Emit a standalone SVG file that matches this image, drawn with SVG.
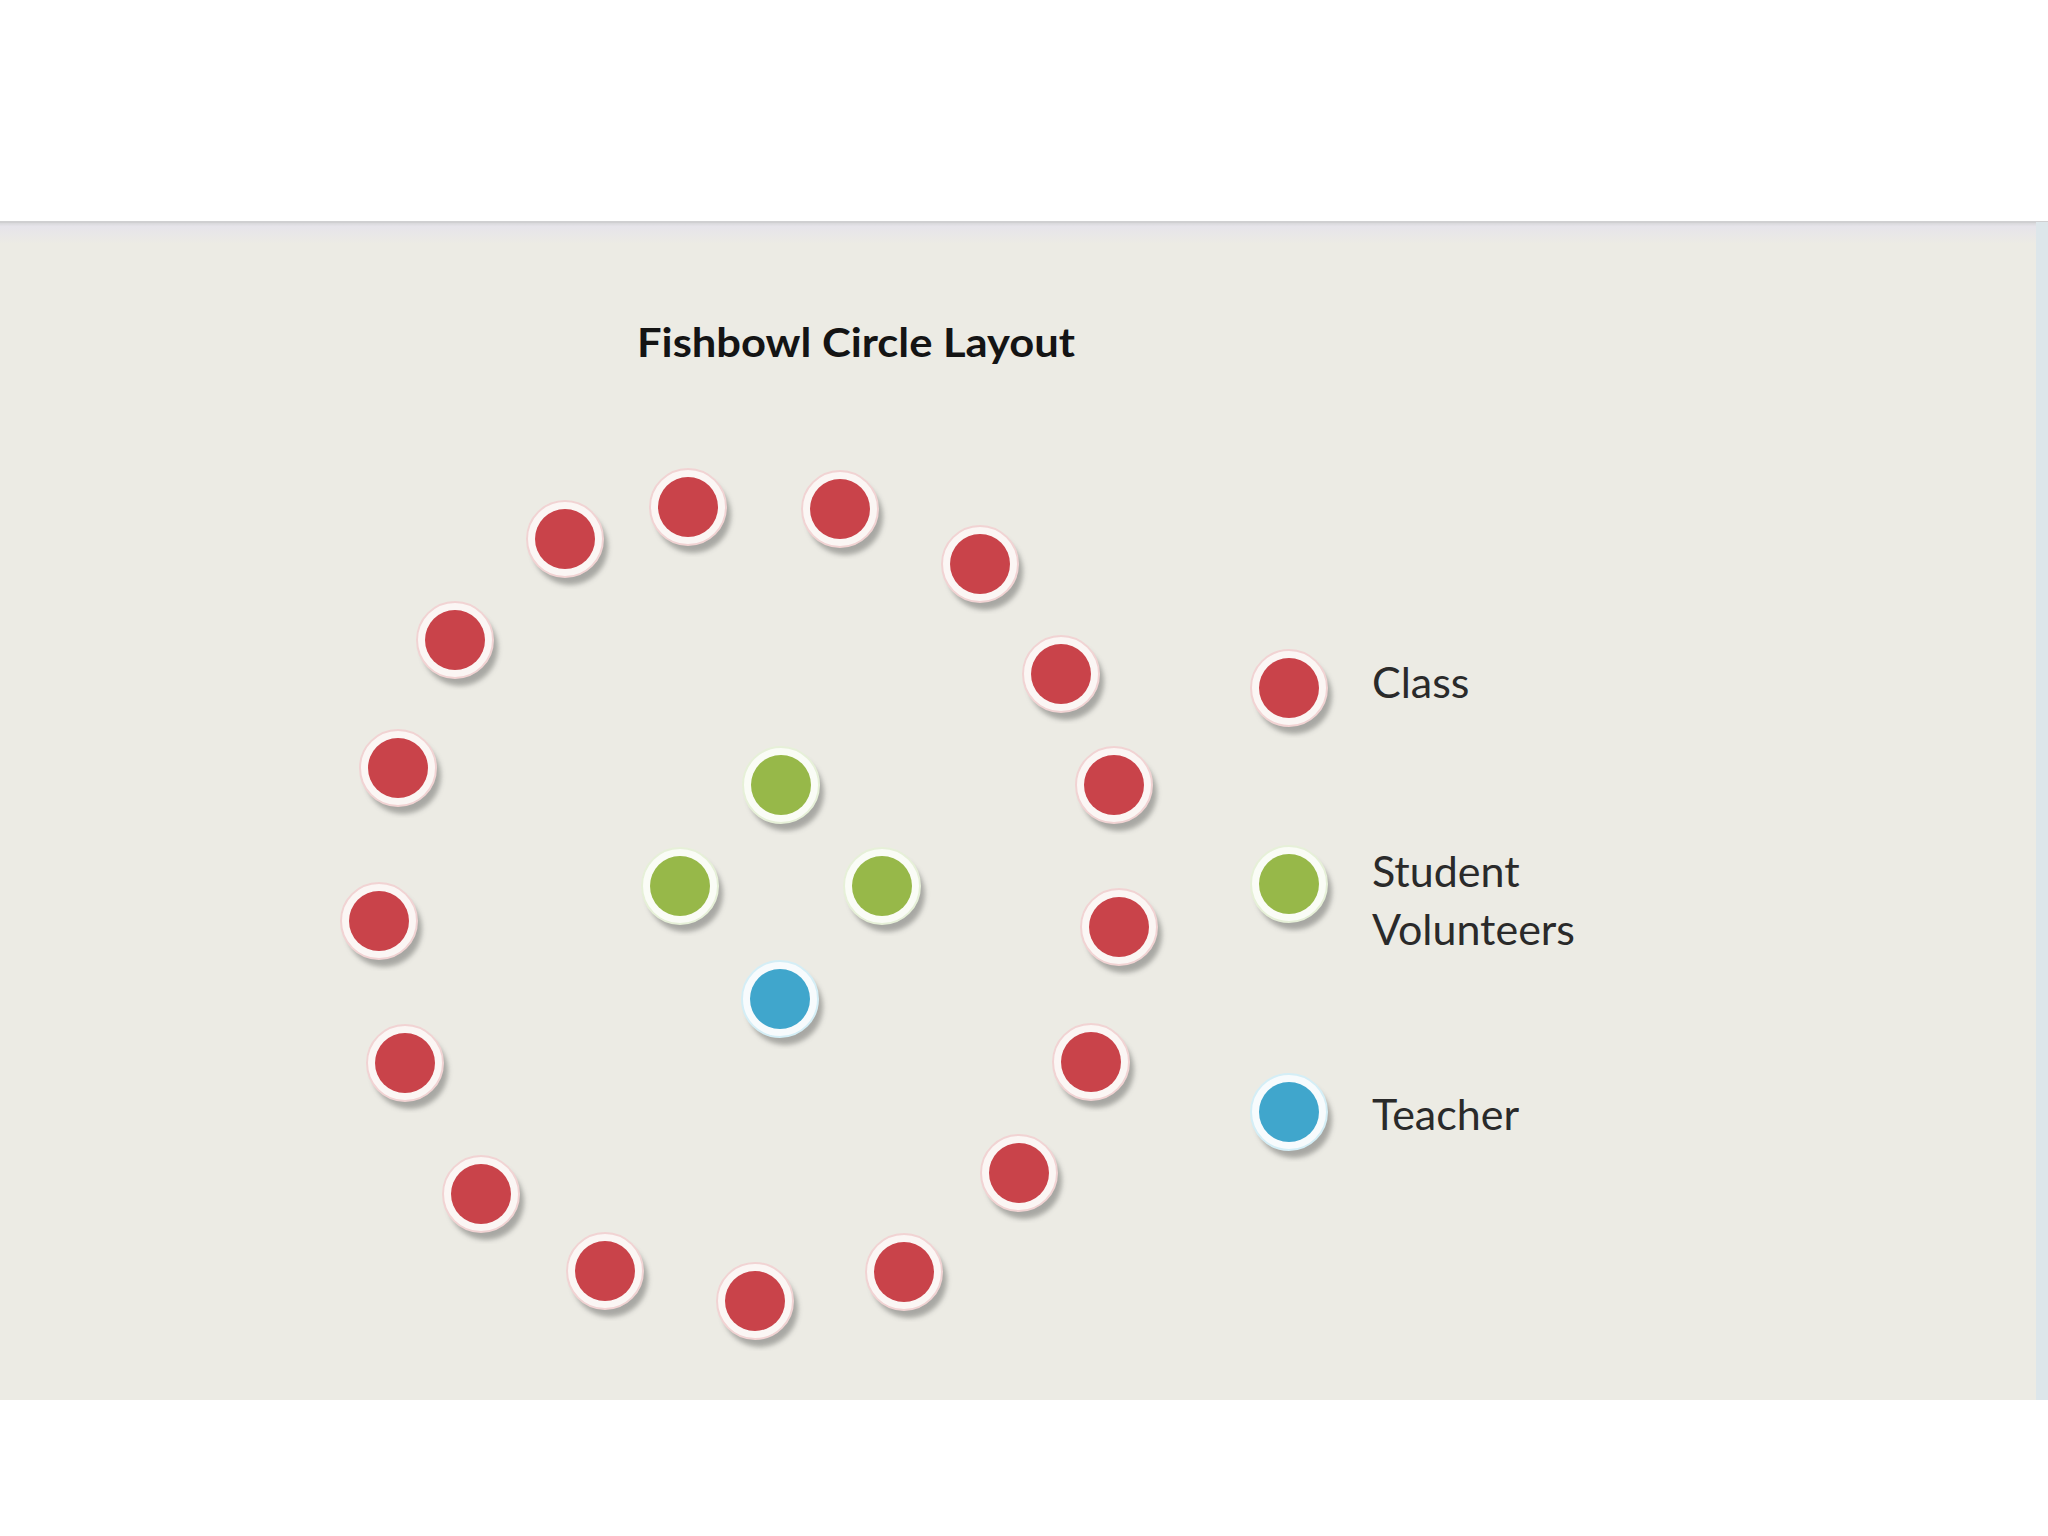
<svg xmlns="http://www.w3.org/2000/svg" width="2048" height="1536" viewBox="0 0 2048 1536">
<defs>
<filter id="blur" x="-50%" y="-50%" width="200%" height="200%"><feGaussianBlur stdDeviation="2.5"/></filter>
<linearGradient id="topEdge" x1="0" y1="0" x2="0" y2="1"><stop offset="0" stop-color="#d4d4d6"/><stop offset="0.2" stop-color="#e6e4ea"/><stop offset="1" stop-color="#ecebe4"/></linearGradient>
</defs>
<style>
.shadow{fill:#9c9c98;opacity:0.85;filter:url(#blur)}
.ringR{fill:#fbf6f4;stroke:#f1d3d3;stroke-width:2}
.ringG{fill:#fafcf6;stroke:#e6f0d8;stroke-width:2}
.ringB{fill:#f7fbfd;stroke:#d4eef6;stroke-width:2}
.red{fill:#c9434a}
.green{fill:#97b849}
.blue{fill:#40a6cc}
.title{font-family:Lato,"Liberation Sans",sans-serif;font-weight:bold;font-size:41px;fill:#141414}
.label{font-family:Lato,"Liberation Sans",sans-serif;font-size:43px;fill:#2a2a2a}
</style>
<rect width="2048" height="1536" fill="#ffffff"/>
<rect x="0" y="222" width="2048" height="1178" fill="#ecebe4"/>
<rect x="0" y="222" width="2048" height="22" fill="url(#topEdge)"/>
<rect x="0" y="221" width="2048" height="2" fill="#cfcfd1"/>
<rect x="2036" y="222" width="12" height="1178" fill="#dde6ea"/>
<symbol id="dotR" viewBox="-50 -50 100 100"><circle class="shadow" cx="5" cy="8" r="38"/><circle class="ringR" cx="0" cy="0" r="38"/><circle class="red" cx="0" cy="0" r="30"/></symbol>
<symbol id="dotG" viewBox="-50 -50 100 100"><circle class="shadow" cx="5" cy="8" r="38"/><circle class="ringG" cx="0" cy="0" r="38"/><circle class="green" cx="0" cy="0" r="30"/></symbol>
<symbol id="dotB" viewBox="-50 -50 100 100"><circle class="shadow" cx="5" cy="8" r="38"/><circle class="ringB" cx="0" cy="0" r="38"/><circle class="blue" cx="0" cy="0" r="30"/></symbol>
<text class="title" x="637" y="357" textLength="438" lengthAdjust="spacingAndGlyphs">Fishbowl Circle Layout</text>
<g id="class-ring">
<g id="c1"><use href="#dotR" x="515" y="489" width="100" height="100"/></g>
<g id="c2"><use href="#dotR" x="638" y="457" width="100" height="100"/></g>
<g id="c3"><use href="#dotR" x="790" y="459" width="100" height="100"/></g>
<g id="c4"><use href="#dotR" x="930" y="514" width="100" height="100"/></g>
<g id="c5"><use href="#dotR" x="1011" y="624" width="100" height="100"/></g>
<g id="c6"><use href="#dotR" x="1064" y="735" width="100" height="100"/></g>
<g id="c7"><use href="#dotR" x="1069" y="877" width="100" height="100"/></g>
<g id="c8"><use href="#dotR" x="1041" y="1012" width="100" height="100"/></g>
<g id="c9"><use href="#dotR" x="969" y="1123" width="100" height="100"/></g>
<g id="c10"><use href="#dotR" x="854" y="1222" width="100" height="100"/></g>
<g id="c11"><use href="#dotR" x="705" y="1251" width="100" height="100"/></g>
<g id="c12"><use href="#dotR" x="555" y="1221" width="100" height="100"/></g>
<g id="c13"><use href="#dotR" x="431" y="1144" width="100" height="100"/></g>
<g id="c14"><use href="#dotR" x="355" y="1013" width="100" height="100"/></g>
<g id="c15"><use href="#dotR" x="329" y="871" width="100" height="100"/></g>
<g id="c16"><use href="#dotR" x="348" y="718" width="100" height="100"/></g>
<g id="c17"><use href="#dotR" x="405" y="590" width="100" height="100"/></g>
</g>
<g id="volunteers">
<g id="v1"><use href="#dotG" x="731" y="735" width="100" height="100"/></g>
<g id="v2"><use href="#dotG" x="630" y="836" width="100" height="100"/></g>
<g id="v3"><use href="#dotG" x="832" y="836" width="100" height="100"/></g>
</g>
<g id="teacher"><use href="#dotB" x="730" y="949" width="100" height="100"/></g>
<g id="legend">
<g id="legend-class"><use href="#dotR" x="1239" y="638" width="100" height="100"/><text class="label" x="1372" y="698">Class</text></g>
<g id="legend-volunteers"><use href="#dotG" x="1239" y="834" width="100" height="100"/><text class="label" x="1372" y="887">Student</text><text class="label" x="1372" y="945" textLength="203" lengthAdjust="spacingAndGlyphs">Volunteers</text></g>
<g id="legend-teacher"><use href="#dotB" x="1239" y="1062" width="100" height="100"/><text class="label" x="1372" y="1130">Teacher</text></g>
</g>
<g id="connectors"/>
</svg>
